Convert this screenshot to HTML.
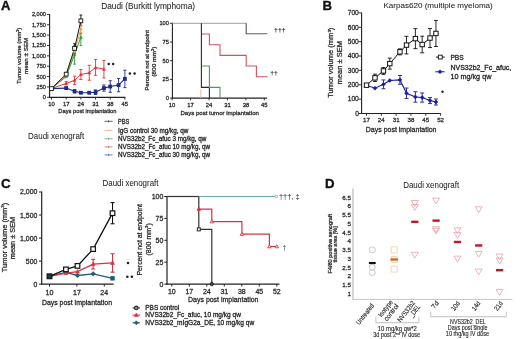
<!DOCTYPE html>
<html><head><meta charset="utf-8"><style>
html,body{margin:0;padding:0;background:#fff;overflow:hidden;width:520px;height:339px;}
svg{display:block;will-change:transform;}
</style></head><body>
<svg width="520" height="339" viewBox="0 0 520 339" font-family="'Liberation Sans', sans-serif">
<rect width="520" height="339" fill="#fff"/>
<g >
<text x="0.9" y="9.85" font-size="13" text-anchor="start" fill="#111" font-weight="bold" stroke="#111" stroke-width="0.35">A</text>
<text x="101.2" y="8.97" font-size="8.3" text-anchor="start" fill="#222" font-weight="normal" textLength="93.9" lengthAdjust="spacingAndGlyphs" stroke="#222" stroke-width="0.05">Daudi (Burkitt lymphoma)</text>
<line x1="49.6" y1="13.9" x2="49.6" y2="97.9" stroke="#222" stroke-width="1.1"/>
<line x1="49.1" y1="97.4" x2="125.4" y2="97.4" stroke="#222" stroke-width="1.1"/>
<line x1="46.9" y1="97.3" x2="49.6" y2="97.3" stroke="#222" stroke-width="0.9"/>
<text x="45.9" y="99.3" font-size="5.6" text-anchor="end" fill="#2a2a2a" font-weight="normal" stroke="#2a2a2a" stroke-width="0.27">0</text>
<line x1="46.9" y1="86.94" x2="49.6" y2="86.94" stroke="#222" stroke-width="0.9"/>
<text x="45.9" y="88.94" font-size="5.6" text-anchor="end" fill="#2a2a2a" font-weight="normal" stroke="#2a2a2a" stroke-width="0.27">250</text>
<line x1="46.9" y1="76.57" x2="49.6" y2="76.57" stroke="#222" stroke-width="0.9"/>
<text x="45.9" y="78.58" font-size="5.6" text-anchor="end" fill="#2a2a2a" font-weight="normal" stroke="#2a2a2a" stroke-width="0.27">500</text>
<line x1="46.9" y1="66.21" x2="49.6" y2="66.21" stroke="#222" stroke-width="0.9"/>
<text x="45.9" y="68.22" font-size="5.6" text-anchor="end" fill="#2a2a2a" font-weight="normal" stroke="#2a2a2a" stroke-width="0.27">750</text>
<line x1="46.9" y1="55.85" x2="49.6" y2="55.85" stroke="#222" stroke-width="0.9"/>
<text x="45.9" y="57.85" font-size="5.6" text-anchor="end" fill="#2a2a2a" font-weight="normal" stroke="#2a2a2a" stroke-width="0.27">1,000</text>
<line x1="46.9" y1="45.49" x2="49.6" y2="45.49" stroke="#222" stroke-width="0.9"/>
<text x="45.9" y="47.49" font-size="5.6" text-anchor="end" fill="#2a2a2a" font-weight="normal" stroke="#2a2a2a" stroke-width="0.27">1,250</text>
<line x1="46.9" y1="35.12" x2="49.6" y2="35.12" stroke="#222" stroke-width="0.9"/>
<text x="45.9" y="37.13" font-size="5.6" text-anchor="end" fill="#2a2a2a" font-weight="normal" stroke="#2a2a2a" stroke-width="0.27">1,500</text>
<line x1="46.9" y1="24.76" x2="49.6" y2="24.76" stroke="#222" stroke-width="0.9"/>
<text x="45.9" y="26.77" font-size="5.6" text-anchor="end" fill="#2a2a2a" font-weight="normal" stroke="#2a2a2a" stroke-width="0.27">1,750</text>
<line x1="46.9" y1="14.4" x2="49.6" y2="14.4" stroke="#222" stroke-width="0.9"/>
<text x="45.9" y="16.4" font-size="5.6" text-anchor="end" fill="#2a2a2a" font-weight="normal" stroke="#2a2a2a" stroke-width="0.27">2,000</text>
<line x1="51.5" y1="97.4" x2="51.5" y2="99.6" stroke="#222" stroke-width="0.9"/>
<text x="51.5" y="106.31" font-size="5.9" text-anchor="middle" fill="#2a2a2a" font-weight="normal" stroke="#2a2a2a" stroke-width="0.27">10</text>
<line x1="66.18" y1="97.4" x2="66.18" y2="99.6" stroke="#222" stroke-width="0.9"/>
<text x="66.18" y="106.31" font-size="5.9" text-anchor="middle" fill="#2a2a2a" font-weight="normal" stroke="#2a2a2a" stroke-width="0.27">17</text>
<line x1="80.86" y1="97.4" x2="80.86" y2="99.6" stroke="#222" stroke-width="0.9"/>
<text x="80.86" y="106.31" font-size="5.9" text-anchor="middle" fill="#2a2a2a" font-weight="normal" stroke="#2a2a2a" stroke-width="0.27">24</text>
<line x1="95.54" y1="97.4" x2="95.54" y2="99.6" stroke="#222" stroke-width="0.9"/>
<text x="95.54" y="106.31" font-size="5.9" text-anchor="middle" fill="#2a2a2a" font-weight="normal" stroke="#2a2a2a" stroke-width="0.27">31</text>
<line x1="110.22" y1="97.4" x2="110.22" y2="99.6" stroke="#222" stroke-width="0.9"/>
<text x="110.22" y="106.31" font-size="5.9" text-anchor="middle" fill="#2a2a2a" font-weight="normal" stroke="#2a2a2a" stroke-width="0.27">38</text>
<line x1="124.89" y1="97.4" x2="124.89" y2="99.6" stroke="#222" stroke-width="0.9"/>
<text x="124.89" y="106.31" font-size="5.9" text-anchor="middle" fill="#2a2a2a" font-weight="normal" stroke="#2a2a2a" stroke-width="0.27">45</text>
<text x="58.3" y="113.41" font-size="5.9" text-anchor="start" fill="#2a2a2a" font-weight="normal" textLength="58.2" lengthAdjust="spacingAndGlyphs" stroke="#2a2a2a" stroke-width="0.27">Days post implantation</text>
<text x="19" y="57.98" font-size="6.1" text-anchor="middle" fill="#2a2a2a" font-weight="normal" textLength="56.2" lengthAdjust="spacingAndGlyphs" stroke="#2a2a2a" stroke-width="0.27" transform="rotate(-90 19 55.8)">Tumor volume (mm<tspan font-size="3.6" dy="-2.3">3</tspan><tspan dy="2.3">)</tspan></text>
<text x="25.7" y="57.98" font-size="6.1" text-anchor="middle" fill="#2a2a2a" font-weight="normal" textLength="36.2" lengthAdjust="spacingAndGlyphs" stroke="#2a2a2a" stroke-width="0.27" transform="rotate(-90 25.7 55.8)">mean ± SEM</text>
<line x1="66.18" y1="84.99" x2="66.18" y2="81.67" stroke="#e0343a" stroke-width="0.9"/>
<line x1="64.58" y1="84.99" x2="67.78" y2="84.99" stroke="#e0343a" stroke-width="0.9"/>
<line x1="64.58" y1="81.67" x2="67.78" y2="81.67" stroke="#e0343a" stroke-width="0.9"/>
<line x1="74.57" y1="84.45" x2="74.57" y2="76.16" stroke="#e0343a" stroke-width="0.9"/>
<line x1="72.97" y1="84.45" x2="76.17" y2="84.45" stroke="#e0343a" stroke-width="0.9"/>
<line x1="72.97" y1="76.16" x2="76.17" y2="76.16" stroke="#e0343a" stroke-width="0.9"/>
<line x1="80.86" y1="79.48" x2="80.86" y2="69.53" stroke="#e0343a" stroke-width="0.9"/>
<line x1="79.26" y1="79.48" x2="82.46" y2="79.48" stroke="#e0343a" stroke-width="0.9"/>
<line x1="79.26" y1="69.53" x2="82.46" y2="69.53" stroke="#e0343a" stroke-width="0.9"/>
<line x1="89.25" y1="80.22" x2="89.25" y2="65.3" stroke="#e0343a" stroke-width="0.9"/>
<line x1="87.65" y1="80.22" x2="90.85" y2="80.22" stroke="#e0343a" stroke-width="0.9"/>
<line x1="87.65" y1="65.3" x2="90.85" y2="65.3" stroke="#e0343a" stroke-width="0.9"/>
<line x1="95.54" y1="75.33" x2="95.54" y2="59.58" stroke="#e0343a" stroke-width="0.9"/>
<line x1="93.94" y1="75.33" x2="97.14" y2="75.33" stroke="#e0343a" stroke-width="0.9"/>
<line x1="93.94" y1="59.58" x2="97.14" y2="59.58" stroke="#e0343a" stroke-width="0.9"/>
<line x1="103.92" y1="77.94" x2="103.92" y2="60.53" stroke="#e0343a" stroke-width="0.9"/>
<line x1="102.33" y1="77.94" x2="105.52" y2="77.94" stroke="#e0343a" stroke-width="0.9"/>
<line x1="102.33" y1="60.53" x2="105.52" y2="60.53" stroke="#e0343a" stroke-width="0.9"/>
<line x1="66.18" y1="88.93" x2="66.18" y2="87.27" stroke="#1c2a8c" stroke-width="0.9"/>
<line x1="64.58" y1="88.93" x2="67.78" y2="88.93" stroke="#1c2a8c" stroke-width="0.9"/>
<line x1="64.58" y1="87.27" x2="67.78" y2="87.27" stroke="#1c2a8c" stroke-width="0.9"/>
<line x1="74.57" y1="92.95" x2="74.57" y2="89.63" stroke="#1c2a8c" stroke-width="0.9"/>
<line x1="72.97" y1="92.95" x2="76.17" y2="92.95" stroke="#1c2a8c" stroke-width="0.9"/>
<line x1="72.97" y1="89.63" x2="76.17" y2="89.63" stroke="#1c2a8c" stroke-width="0.9"/>
<line x1="80.86" y1="93.57" x2="80.86" y2="91.91" stroke="#1c2a8c" stroke-width="0.9"/>
<line x1="79.26" y1="93.57" x2="82.46" y2="93.57" stroke="#1c2a8c" stroke-width="0.9"/>
<line x1="79.26" y1="91.91" x2="82.46" y2="91.91" stroke="#1c2a8c" stroke-width="0.9"/>
<line x1="89.25" y1="93.57" x2="89.25" y2="91.91" stroke="#1c2a8c" stroke-width="0.9"/>
<line x1="87.65" y1="93.57" x2="90.85" y2="93.57" stroke="#1c2a8c" stroke-width="0.9"/>
<line x1="87.65" y1="91.91" x2="90.85" y2="91.91" stroke="#1c2a8c" stroke-width="0.9"/>
<line x1="95.54" y1="94.48" x2="95.54" y2="89.92" stroke="#1c2a8c" stroke-width="0.9"/>
<line x1="93.94" y1="94.48" x2="97.14" y2="94.48" stroke="#1c2a8c" stroke-width="0.9"/>
<line x1="93.94" y1="89.92" x2="97.14" y2="89.92" stroke="#1c2a8c" stroke-width="0.9"/>
<line x1="103.92" y1="91.21" x2="103.92" y2="84.99" stroke="#1c2a8c" stroke-width="0.9"/>
<line x1="102.33" y1="91.21" x2="105.52" y2="91.21" stroke="#1c2a8c" stroke-width="0.9"/>
<line x1="102.33" y1="84.99" x2="105.52" y2="84.99" stroke="#1c2a8c" stroke-width="0.9"/>
<line x1="110.22" y1="92.33" x2="110.22" y2="80.72" stroke="#1c2a8c" stroke-width="0.9"/>
<line x1="108.62" y1="92.33" x2="111.82" y2="92.33" stroke="#1c2a8c" stroke-width="0.9"/>
<line x1="108.62" y1="80.72" x2="111.82" y2="80.72" stroke="#1c2a8c" stroke-width="0.9"/>
<line x1="118.6" y1="91.75" x2="118.6" y2="78.48" stroke="#1c2a8c" stroke-width="0.9"/>
<line x1="117" y1="91.75" x2="120.2" y2="91.75" stroke="#1c2a8c" stroke-width="0.9"/>
<line x1="117" y1="78.48" x2="120.2" y2="78.48" stroke="#1c2a8c" stroke-width="0.9"/>
<line x1="124.89" y1="87.64" x2="124.89" y2="70.23" stroke="#1c2a8c" stroke-width="0.9"/>
<line x1="123.3" y1="87.64" x2="126.49" y2="87.64" stroke="#1c2a8c" stroke-width="0.9"/>
<line x1="123.3" y1="70.23" x2="126.49" y2="70.23" stroke="#1c2a8c" stroke-width="0.9"/>
<line x1="80.86" y1="25.8" x2="80.86" y2="15.02" stroke="#111" stroke-width="0.9"/>
<line x1="79.46" y1="25.8" x2="82.26" y2="25.8" stroke="#111" stroke-width="0.9"/>
<line x1="79.46" y1="15.02" x2="82.26" y2="15.02" stroke="#111" stroke-width="0.9"/>
<line x1="74.57" y1="53.24" x2="74.57" y2="43.71" stroke="#111" stroke-width="0.9"/>
<line x1="73.17" y1="53.24" x2="75.97" y2="53.24" stroke="#111" stroke-width="0.9"/>
<line x1="73.17" y1="43.71" x2="75.97" y2="43.71" stroke="#111" stroke-width="0.9"/>
<line x1="80.86" y1="45.57" x2="80.86" y2="33.55" stroke="#2e9a3a" stroke-width="0.9"/>
<line x1="79.46" y1="45.57" x2="82.26" y2="45.57" stroke="#2e9a3a" stroke-width="0.9"/>
<line x1="79.46" y1="33.55" x2="82.26" y2="33.55" stroke="#2e9a3a" stroke-width="0.9"/>
<line x1="74.57" y1="64.14" x2="74.57" y2="45.49" stroke="#2e9a3a" stroke-width="0.9"/>
<line x1="73.17" y1="64.14" x2="75.97" y2="64.14" stroke="#2e9a3a" stroke-width="0.9"/>
<line x1="73.17" y1="45.49" x2="75.97" y2="45.49" stroke="#2e9a3a" stroke-width="0.9"/>
<line x1="80.86" y1="32.51" x2="80.86" y2="25.05" stroke="#f0a050" stroke-width="0.9"/>
<line x1="79.46" y1="32.51" x2="82.26" y2="32.51" stroke="#f0a050" stroke-width="0.9"/>
<line x1="79.46" y1="25.05" x2="82.26" y2="25.05" stroke="#f0a050" stroke-width="0.9"/>
<polyline points="51.5,88.6 66.18,75.41 74.57,51.7 80.86,29.2" fill="none" stroke="#f0a050" stroke-width="1" stroke-linejoin="miter"/>
<polyline points="51.5,88.6 66.18,76.57 74.57,54.61 80.86,37.28" fill="none" stroke="#2e9a3a" stroke-width="1" stroke-linejoin="miter"/>
<polyline points="51.5,88.6 66.18,83.33 74.57,80.31 80.86,74.5 89.25,72.76 95.54,67.46 103.92,69.24" fill="none" stroke="#e0343a" stroke-width="1" stroke-linejoin="miter"/>
<polyline points="51.5,88.6 66.18,88.1 74.57,91.29 80.86,92.74 89.25,92.74 95.54,92.2 103.92,88.1 110.22,86.52 118.6,85.11 124.89,78.94" fill="none" stroke="#1c2a8c" stroke-width="1.1" stroke-linejoin="miter"/>
<polyline points="51.5,88.6 66.18,74.13 74.57,48.39 80.86,20.82" fill="none" stroke="#111" stroke-width="1" stroke-linejoin="miter"/>
<polygon points="66.18,81.73 64.68,84.53 67.68,84.53" fill="#e0343a" stroke="#e0343a" stroke-width="0.5"/>
<polygon points="74.57,78.71 73.07,81.51 76.07,81.51" fill="#e0343a" stroke="#e0343a" stroke-width="0.5"/>
<polygon points="80.86,72.9 79.36,75.7 82.36,75.7" fill="#e0343a" stroke="#e0343a" stroke-width="0.5"/>
<polygon points="89.25,71.16 87.75,73.96 90.75,73.96" fill="#e0343a" stroke="#e0343a" stroke-width="0.5"/>
<polygon points="95.54,65.86 94.04,68.66 97.04,68.66" fill="#e0343a" stroke="#e0343a" stroke-width="0.5"/>
<polygon points="103.92,67.64 102.42,70.44 105.42,70.44" fill="#e0343a" stroke="#e0343a" stroke-width="0.5"/>
<polygon points="66.18,74.97 64.68,77.77 67.68,77.77" fill="#2e9a3a" stroke="#2e9a3a" stroke-width="0.5"/>
<polygon points="74.57,53.01 73.07,55.81 76.07,55.81" fill="#2e9a3a" stroke="#2e9a3a" stroke-width="0.5"/>
<polygon points="80.86,35.68 79.36,38.48 82.36,38.48" fill="#2e9a3a" stroke="#2e9a3a" stroke-width="0.5"/>
<rect x="64.28" y="86.2" width="3.8" height="3.8" fill="#1c2a8c" stroke="none" stroke-width="1"/>
<rect x="72.67" y="89.39" width="3.8" height="3.8" fill="#1c2a8c" stroke="none" stroke-width="1"/>
<rect x="78.96" y="90.84" width="3.8" height="3.8" fill="#1c2a8c" stroke="none" stroke-width="1"/>
<rect x="87.35" y="90.84" width="3.8" height="3.8" fill="#1c2a8c" stroke="none" stroke-width="1"/>
<rect x="93.64" y="90.3" width="3.8" height="3.8" fill="#1c2a8c" stroke="none" stroke-width="1"/>
<rect x="102.02" y="86.2" width="3.8" height="3.8" fill="#1c2a8c" stroke="none" stroke-width="1"/>
<rect x="108.32" y="84.62" width="3.8" height="3.8" fill="#1c2a8c" stroke="none" stroke-width="1"/>
<rect x="116.7" y="83.21" width="3.8" height="3.8" fill="#1c2a8c" stroke="none" stroke-width="1"/>
<rect x="122.99" y="77.04" width="3.8" height="3.8" fill="#1c2a8c" stroke="none" stroke-width="1"/>
<circle cx="66.18" cy="75.41" r="1.4" fill="#f0a050" stroke="none" stroke-width="1"/>
<circle cx="74.57" cy="51.7" r="1.4" fill="#f0a050" stroke="none" stroke-width="1"/>
<circle cx="80.86" cy="29.2" r="1.4" fill="#f0a050" stroke="none" stroke-width="1"/>
<rect x="49.6" y="86.7" width="3.8" height="3.8" fill="#fff" stroke="#111" stroke-width="0.9"/>
<rect x="64.28" y="72.23" width="3.8" height="3.8" fill="#fff" stroke="#111" stroke-width="0.9"/>
<rect x="72.67" y="46.49" width="3.8" height="3.8" fill="#fff" stroke="#111" stroke-width="0.9"/>
<rect x="78.96" y="18.92" width="3.8" height="3.8" fill="#fff" stroke="#111" stroke-width="0.9"/>
<circle cx="108.7" cy="64" r="1.25" fill="#222" stroke="none" stroke-width="1"/>
<circle cx="113.1" cy="64" r="1.25" fill="#222" stroke="none" stroke-width="1"/>
<circle cx="129.9" cy="73.6" r="1.25" fill="#222" stroke="none" stroke-width="1"/>
<circle cx="134.6" cy="73.6" r="1.25" fill="#222" stroke="none" stroke-width="1"/>
<line x1="172.4" y1="22.8" x2="172.4" y2="98.6" stroke="#222" stroke-width="1.1"/>
<line x1="171.9" y1="98.1" x2="267" y2="98.1" stroke="#222" stroke-width="1.1"/>
<line x1="169.9" y1="98.1" x2="172.4" y2="98.1" stroke="#222" stroke-width="0.9"/>
<text x="168.9" y="100.14" font-size="5.7" text-anchor="end" fill="#2a2a2a" font-weight="normal" stroke="#2a2a2a" stroke-width="0.27">0</text>
<line x1="169.9" y1="79.4" x2="172.4" y2="79.4" stroke="#222" stroke-width="0.9"/>
<text x="168.9" y="81.44" font-size="5.7" text-anchor="end" fill="#2a2a2a" font-weight="normal" stroke="#2a2a2a" stroke-width="0.27">25</text>
<line x1="169.9" y1="60.7" x2="172.4" y2="60.7" stroke="#222" stroke-width="0.9"/>
<text x="168.9" y="62.74" font-size="5.7" text-anchor="end" fill="#2a2a2a" font-weight="normal" stroke="#2a2a2a" stroke-width="0.27">50</text>
<line x1="169.9" y1="42" x2="172.4" y2="42" stroke="#222" stroke-width="0.9"/>
<text x="168.9" y="44.04" font-size="5.7" text-anchor="end" fill="#2a2a2a" font-weight="normal" stroke="#2a2a2a" stroke-width="0.27">75</text>
<line x1="169.9" y1="23.3" x2="172.4" y2="23.3" stroke="#222" stroke-width="0.9"/>
<text x="168.9" y="25.34" font-size="5.7" text-anchor="end" fill="#2a2a2a" font-weight="normal" stroke="#2a2a2a" stroke-width="0.27">100</text>
<line x1="172.1" y1="98.1" x2="172.1" y2="100.3" stroke="#222" stroke-width="0.9"/>
<text x="172.1" y="106.81" font-size="5.9" text-anchor="middle" fill="#2a2a2a" font-weight="normal" stroke="#2a2a2a" stroke-width="0.27">10</text>
<line x1="190.55" y1="98.1" x2="190.55" y2="100.3" stroke="#222" stroke-width="0.9"/>
<text x="190.55" y="106.81" font-size="5.9" text-anchor="middle" fill="#2a2a2a" font-weight="normal" stroke="#2a2a2a" stroke-width="0.27">17</text>
<line x1="209" y1="98.1" x2="209" y2="100.3" stroke="#222" stroke-width="0.9"/>
<text x="209" y="106.81" font-size="5.9" text-anchor="middle" fill="#2a2a2a" font-weight="normal" stroke="#2a2a2a" stroke-width="0.27">24</text>
<line x1="227.46" y1="98.1" x2="227.46" y2="100.3" stroke="#222" stroke-width="0.9"/>
<text x="227.46" y="106.81" font-size="5.9" text-anchor="middle" fill="#2a2a2a" font-weight="normal" stroke="#2a2a2a" stroke-width="0.27">31</text>
<line x1="245.91" y1="98.1" x2="245.91" y2="100.3" stroke="#222" stroke-width="0.9"/>
<text x="245.91" y="106.81" font-size="5.9" text-anchor="middle" fill="#2a2a2a" font-weight="normal" stroke="#2a2a2a" stroke-width="0.27">38</text>
<line x1="264.36" y1="98.1" x2="264.36" y2="100.3" stroke="#222" stroke-width="0.9"/>
<text x="264.36" y="106.81" font-size="5.9" text-anchor="middle" fill="#2a2a2a" font-weight="normal" stroke="#2a2a2a" stroke-width="0.27">45</text>
<text x="180.4" y="115.18" font-size="6.1" text-anchor="start" fill="#2a2a2a" font-weight="normal" textLength="78.5" lengthAdjust="spacingAndGlyphs" stroke="#2a2a2a" stroke-width="0.27">Days post tumor implantation</text>
<text x="147.4" y="62.31" font-size="5.9" text-anchor="middle" fill="#2a2a2a" font-weight="normal" textLength="60.4" lengthAdjust="spacingAndGlyphs" stroke="#2a2a2a" stroke-width="0.27" transform="rotate(-90 147.4 60.2)">Percent not at endpoint</text>
<text x="154.3" y="63.81" font-size="5.9" text-anchor="middle" fill="#2a2a2a" font-weight="normal" textLength="30.2" lengthAdjust="spacingAndGlyphs" stroke="#2a2a2a" stroke-width="0.27" transform="rotate(-90 154.3 61.7)">(800 mm<tspan font-size="3.6" dy="-2.3">3</tspan><tspan dy="2.3">)</tspan></text>
<line x1="172.4" y1="23.3" x2="246.2" y2="23.3" stroke="#9a9ab6" stroke-width="1"/>
<polyline points="246.2,23.3 246.2,33.77 267.4,33.77" fill="none" stroke="#5c5c8e" stroke-width="1.2" stroke-linejoin="miter"/>
<polyline points="201.4,23.3 201.4,87.4 209.4,87.4 209.4,98.1" fill="none" stroke="#2a2a2a" stroke-width="1.1" stroke-linejoin="miter"/>
<polyline points="202.2,66.01 209.4,66.01 209.4,87.4 220,87.4 220,98.1" fill="none" stroke="#4e9c55" stroke-width="1.1" stroke-linejoin="miter"/>
<line x1="200.8" y1="89.12" x2="200.8" y2="98.1" stroke="#f5b890" stroke-width="1"/>
<polyline points="202,34 209.4,34 209.4,44.69 220,44.69 220,55.39 246.2,55.39 246.2,66.01 256.4,66.01 256.4,76.71 267.6,76.71" fill="none" stroke="#d4505e" stroke-width="1.1" stroke-linejoin="miter"/>
<text x="274.1" y="32" font-size="5.6" text-anchor="start" fill="#222" font-weight="normal" textLength="11.5" lengthAdjust="spacingAndGlyphs" stroke="#222" stroke-width="0.1">†††</text>
<text x="270.2" y="75" font-size="5.6" text-anchor="start" fill="#222" font-weight="normal" textLength="7.5" lengthAdjust="spacingAndGlyphs" stroke="#222" stroke-width="0.1">††</text>
<text x="28.1" y="139.07" font-size="8.3" text-anchor="start" fill="#222" font-weight="normal" textLength="56.2" lengthAdjust="spacingAndGlyphs" stroke="#222" stroke-width="0.03">Daudi xenograft</text>
<line x1="104.5" y1="121.3" x2="112.6" y2="121.3" stroke="#333" stroke-width="0.75"/>
<line x1="108.5" y1="120.3" x2="108.5" y2="122.3" stroke="#333" stroke-width="0.7"/>
<text x="118" y="123.56" font-size="6.3" text-anchor="start" fill="#222" font-weight="normal" textLength="11.3" lengthAdjust="spacingAndGlyphs" stroke="#222" stroke-width="0.27">PBS</text>
<line x1="104.5" y1="130.4" x2="112.6" y2="130.4" stroke="#f0a878" stroke-width="0.75"/>
<line x1="108.5" y1="129.4" x2="108.5" y2="131.4" stroke="#f0a878" stroke-width="0.7"/>
<text x="118" y="132.66" font-size="6.3" text-anchor="start" fill="#222" font-weight="normal" textLength="70.4" lengthAdjust="spacingAndGlyphs" stroke="#222" stroke-width="0.27">IgG control 30 mg/kg, qw</text>
<line x1="104.5" y1="138.8" x2="112.6" y2="138.8" stroke="#5a9a5a" stroke-width="0.75"/>
<line x1="108.5" y1="137.8" x2="108.5" y2="139.8" stroke="#5a9a5a" stroke-width="0.7"/>
<text x="118" y="141.06" font-size="6.3" text-anchor="start" fill="#222" font-weight="normal" textLength="88.3" lengthAdjust="spacingAndGlyphs" stroke="#222" stroke-width="0.27">NVS32b2_Fc_afuc 3 mg/kg, qw</text>
<line x1="104.5" y1="146.9" x2="112.6" y2="146.9" stroke="#d85060" stroke-width="0.75"/>
<line x1="108.5" y1="145.9" x2="108.5" y2="147.9" stroke="#d85060" stroke-width="0.7"/>
<text x="118" y="149.16" font-size="6.3" text-anchor="start" fill="#222" font-weight="normal" textLength="92" lengthAdjust="spacingAndGlyphs" stroke="#222" stroke-width="0.27">NVS32b2_Fc_afuc 10 mg/kg, qw</text>
<line x1="104.5" y1="154.9" x2="112.6" y2="154.9" stroke="#3a5aa8" stroke-width="0.75"/>
<line x1="108.5" y1="153.9" x2="108.5" y2="155.9" stroke="#3a5aa8" stroke-width="0.7"/>
<text x="118" y="157.16" font-size="6.3" text-anchor="start" fill="#222" font-weight="normal" textLength="92" lengthAdjust="spacingAndGlyphs" stroke="#222" stroke-width="0.27">NVS32b2_Fc_afuc 30 mg/kg, qw</text>
<text x="322.4" y="9.63" font-size="13.2" text-anchor="start" fill="#111" font-weight="bold" stroke="#111" stroke-width="0.35">B</text>
<text x="383.4" y="8.26" font-size="8" text-anchor="start" fill="#222" font-weight="normal" textLength="109.4" lengthAdjust="spacingAndGlyphs" stroke="#222" stroke-width="0.05">Karpas620 (multiple myeloma)</text>
<line x1="361.6" y1="12.41" x2="361.6" y2="114" stroke="#222" stroke-width="1.1"/>
<line x1="361.1" y1="113.5" x2="440.8" y2="113.5" stroke="#222" stroke-width="1.1"/>
<line x1="358.4" y1="113.5" x2="361.6" y2="113.5" stroke="#222" stroke-width="0.9"/>
<text x="358.8" y="115.86" font-size="6.6" text-anchor="end" fill="#2a2a2a" font-weight="normal" stroke="#2a2a2a" stroke-width="0.27">0</text>
<line x1="358.4" y1="99.13" x2="361.6" y2="99.13" stroke="#222" stroke-width="0.9"/>
<text x="358.8" y="101.49" font-size="6.6" text-anchor="end" fill="#2a2a2a" font-weight="normal" stroke="#2a2a2a" stroke-width="0.27">100</text>
<line x1="358.4" y1="84.76" x2="361.6" y2="84.76" stroke="#222" stroke-width="0.9"/>
<text x="358.8" y="87.12" font-size="6.6" text-anchor="end" fill="#2a2a2a" font-weight="normal" stroke="#2a2a2a" stroke-width="0.27">200</text>
<line x1="358.4" y1="70.39" x2="361.6" y2="70.39" stroke="#222" stroke-width="0.9"/>
<text x="358.8" y="72.75" font-size="6.6" text-anchor="end" fill="#2a2a2a" font-weight="normal" stroke="#2a2a2a" stroke-width="0.27">300</text>
<line x1="358.4" y1="56.02" x2="361.6" y2="56.02" stroke="#222" stroke-width="0.9"/>
<text x="358.8" y="58.38" font-size="6.6" text-anchor="end" fill="#2a2a2a" font-weight="normal" stroke="#2a2a2a" stroke-width="0.27">400</text>
<line x1="358.4" y1="41.65" x2="361.6" y2="41.65" stroke="#222" stroke-width="0.9"/>
<text x="358.8" y="44.01" font-size="6.6" text-anchor="end" fill="#2a2a2a" font-weight="normal" stroke="#2a2a2a" stroke-width="0.27">500</text>
<line x1="358.4" y1="27.28" x2="361.6" y2="27.28" stroke="#222" stroke-width="0.9"/>
<text x="358.8" y="29.64" font-size="6.6" text-anchor="end" fill="#2a2a2a" font-weight="normal" stroke="#2a2a2a" stroke-width="0.27">600</text>
<line x1="358.4" y1="12.91" x2="361.6" y2="12.91" stroke="#222" stroke-width="0.9"/>
<text x="358.8" y="15.27" font-size="6.6" text-anchor="end" fill="#2a2a2a" font-weight="normal" stroke="#2a2a2a" stroke-width="0.27">700</text>
<line x1="366.5" y1="113.5" x2="366.5" y2="115.8" stroke="#222" stroke-width="0.9"/>
<text x="366.5" y="122.32" font-size="6.2" text-anchor="middle" fill="#2a2a2a" font-weight="normal" stroke="#2a2a2a" stroke-width="0.27">17</text>
<line x1="381.32" y1="113.5" x2="381.32" y2="115.8" stroke="#222" stroke-width="0.9"/>
<text x="381.32" y="122.32" font-size="6.2" text-anchor="middle" fill="#2a2a2a" font-weight="normal" stroke="#2a2a2a" stroke-width="0.27">24</text>
<line x1="396.14" y1="113.5" x2="396.14" y2="115.8" stroke="#222" stroke-width="0.9"/>
<text x="396.14" y="122.32" font-size="6.2" text-anchor="middle" fill="#2a2a2a" font-weight="normal" stroke="#2a2a2a" stroke-width="0.27">31</text>
<line x1="410.96" y1="113.5" x2="410.96" y2="115.8" stroke="#222" stroke-width="0.9"/>
<text x="410.96" y="122.32" font-size="6.2" text-anchor="middle" fill="#2a2a2a" font-weight="normal" stroke="#2a2a2a" stroke-width="0.27">38</text>
<line x1="425.78" y1="113.5" x2="425.78" y2="115.8" stroke="#222" stroke-width="0.9"/>
<text x="425.78" y="122.32" font-size="6.2" text-anchor="middle" fill="#2a2a2a" font-weight="normal" stroke="#2a2a2a" stroke-width="0.27">45</text>
<line x1="440.6" y1="113.5" x2="440.6" y2="115.8" stroke="#222" stroke-width="0.9"/>
<text x="440.6" y="122.32" font-size="6.2" text-anchor="middle" fill="#2a2a2a" font-weight="normal" stroke="#2a2a2a" stroke-width="0.27">52</text>
<text x="365.8" y="132.37" font-size="6.9" text-anchor="start" fill="#2a2a2a" font-weight="normal" textLength="70.7" lengthAdjust="spacingAndGlyphs" stroke="#2a2a2a" stroke-width="0.27">Days post implantation</text>
<text x="330.8" y="65.39" font-size="7.5" text-anchor="middle" fill="#2a2a2a" font-weight="normal" textLength="70.2" lengthAdjust="spacingAndGlyphs" stroke="#2a2a2a" stroke-width="0.27" transform="rotate(-90 330.8 62.7)">Tumor volume (mm<tspan font-size="4.4" dy="-2.8">3</tspan><tspan dy="2.8">)</tspan></text>
<text x="339" y="65.39" font-size="7.5" text-anchor="middle" fill="#2a2a2a" font-weight="normal" textLength="43.6" lengthAdjust="spacingAndGlyphs" stroke="#2a2a2a" stroke-width="0.27" transform="rotate(-90 339 62.7)">mean ± SEM</text>
<line x1="383.44" y1="88.73" x2="383.44" y2="79.93" stroke="#1a1aa0" stroke-width="0.9"/>
<line x1="381.44" y1="88.73" x2="385.44" y2="88.73" stroke="#1a1aa0" stroke-width="0.9"/>
<line x1="381.44" y1="79.93" x2="385.44" y2="79.93" stroke="#1a1aa0" stroke-width="0.9"/>
<line x1="399.95" y1="84.27" x2="399.95" y2="75.47" stroke="#1a1aa0" stroke-width="0.9"/>
<line x1="397.95" y1="84.27" x2="401.95" y2="84.27" stroke="#1a1aa0" stroke-width="0.9"/>
<line x1="397.95" y1="75.47" x2="401.95" y2="75.47" stroke="#1a1aa0" stroke-width="0.9"/>
<line x1="406.51" y1="98.44" x2="406.51" y2="88.04" stroke="#1a1aa0" stroke-width="0.9"/>
<line x1="404.51" y1="98.44" x2="408.51" y2="98.44" stroke="#1a1aa0" stroke-width="0.9"/>
<line x1="404.51" y1="88.04" x2="408.51" y2="88.04" stroke="#1a1aa0" stroke-width="0.9"/>
<line x1="415.4" y1="102.17" x2="415.4" y2="91.77" stroke="#1a1aa0" stroke-width="0.9"/>
<line x1="413.4" y1="102.17" x2="417.4" y2="102.17" stroke="#1a1aa0" stroke-width="0.9"/>
<line x1="413.4" y1="91.77" x2="417.4" y2="91.77" stroke="#1a1aa0" stroke-width="0.9"/>
<line x1="422.18" y1="102.15" x2="422.18" y2="92.95" stroke="#1a1aa0" stroke-width="0.9"/>
<line x1="420.18" y1="102.15" x2="424.18" y2="102.15" stroke="#1a1aa0" stroke-width="0.9"/>
<line x1="420.18" y1="92.95" x2="424.18" y2="92.95" stroke="#1a1aa0" stroke-width="0.9"/>
<line x1="430.01" y1="103.57" x2="430.01" y2="97.57" stroke="#1a1aa0" stroke-width="0.9"/>
<line x1="428.01" y1="103.57" x2="432.01" y2="103.57" stroke="#1a1aa0" stroke-width="0.9"/>
<line x1="428.01" y1="97.57" x2="432.01" y2="97.57" stroke="#1a1aa0" stroke-width="0.9"/>
<line x1="435.94" y1="105" x2="435.94" y2="99" stroke="#1a1aa0" stroke-width="0.9"/>
<line x1="433.94" y1="105" x2="437.94" y2="105" stroke="#1a1aa0" stroke-width="0.9"/>
<line x1="433.94" y1="99" x2="437.94" y2="99" stroke="#1a1aa0" stroke-width="0.9"/>
<line x1="374.97" y1="81.56" x2="374.97" y2="74.16" stroke="#111" stroke-width="0.9"/>
<line x1="372.97" y1="81.56" x2="376.97" y2="81.56" stroke="#111" stroke-width="0.9"/>
<line x1="372.97" y1="74.16" x2="376.97" y2="74.16" stroke="#111" stroke-width="0.9"/>
<line x1="383.44" y1="74.36" x2="383.44" y2="67.56" stroke="#111" stroke-width="0.9"/>
<line x1="381.44" y1="74.36" x2="385.44" y2="74.36" stroke="#111" stroke-width="0.9"/>
<line x1="381.44" y1="67.56" x2="385.44" y2="67.56" stroke="#111" stroke-width="0.9"/>
<line x1="389.79" y1="69.14" x2="389.79" y2="58.14" stroke="#111" stroke-width="0.9"/>
<line x1="387.79" y1="69.14" x2="391.79" y2="69.14" stroke="#111" stroke-width="0.9"/>
<line x1="387.79" y1="58.14" x2="391.79" y2="58.14" stroke="#111" stroke-width="0.9"/>
<line x1="399.95" y1="54.85" x2="399.95" y2="48.85" stroke="#111" stroke-width="0.9"/>
<line x1="397.95" y1="54.85" x2="401.95" y2="54.85" stroke="#111" stroke-width="0.9"/>
<line x1="397.95" y1="48.85" x2="401.95" y2="48.85" stroke="#111" stroke-width="0.9"/>
<line x1="406.51" y1="53.9" x2="406.51" y2="36.3" stroke="#111" stroke-width="0.9"/>
<line x1="404.51" y1="53.9" x2="408.51" y2="53.9" stroke="#111" stroke-width="0.9"/>
<line x1="404.51" y1="36.3" x2="408.51" y2="36.3" stroke="#111" stroke-width="0.9"/>
<line x1="415.4" y1="48.63" x2="415.4" y2="28.63" stroke="#111" stroke-width="0.9"/>
<line x1="413.4" y1="48.63" x2="417.4" y2="48.63" stroke="#111" stroke-width="0.9"/>
<line x1="413.4" y1="28.63" x2="417.4" y2="28.63" stroke="#111" stroke-width="0.9"/>
<line x1="422.18" y1="52.82" x2="422.18" y2="36.22" stroke="#111" stroke-width="0.9"/>
<line x1="420.18" y1="52.82" x2="424.18" y2="52.82" stroke="#111" stroke-width="0.9"/>
<line x1="420.18" y1="36.22" x2="424.18" y2="36.22" stroke="#111" stroke-width="0.9"/>
<line x1="430.01" y1="47.56" x2="430.01" y2="28.56" stroke="#111" stroke-width="0.9"/>
<line x1="428.01" y1="47.56" x2="432.01" y2="47.56" stroke="#111" stroke-width="0.9"/>
<line x1="428.01" y1="28.56" x2="432.01" y2="28.56" stroke="#111" stroke-width="0.9"/>
<line x1="435.94" y1="46.46" x2="435.94" y2="20.46" stroke="#111" stroke-width="0.9"/>
<line x1="433.94" y1="46.46" x2="437.94" y2="46.46" stroke="#111" stroke-width="0.9"/>
<line x1="433.94" y1="20.46" x2="437.94" y2="20.46" stroke="#111" stroke-width="0.9"/>
<polyline points="366.5,85.19 374.97,88.21 383.44,84.33 389.79,80.45 399.95,79.87 406.51,93.24 415.4,96.97 422.18,97.55 430.01,100.57 435.94,102" fill="none" stroke="#1a1aa0" stroke-width="1.1" stroke-linejoin="miter"/>
<polyline points="366.5,85.19 374.97,77.86 383.44,70.96 389.79,63.64 399.95,51.85 406.51,45.1 415.4,38.63 422.18,44.52 430.01,38.06 435.94,33.46" fill="none" stroke="#111" stroke-width="1" stroke-linejoin="miter"/>
<polygon points="374.97,86.21 376.97,88.21 374.97,90.21 372.97,88.21" fill="#1a1aa0" stroke="#1a1aa0" stroke-width="0.5"/>
<polygon points="383.44,82.33 385.44,84.33 383.44,86.33 381.44,84.33" fill="#1a1aa0" stroke="#1a1aa0" stroke-width="0.5"/>
<polygon points="389.79,78.45 391.79,80.45 389.79,82.45 387.79,80.45" fill="#1a1aa0" stroke="#1a1aa0" stroke-width="0.5"/>
<polygon points="399.95,77.87 401.95,79.87 399.95,81.87 397.95,79.87" fill="#1a1aa0" stroke="#1a1aa0" stroke-width="0.5"/>
<polygon points="406.51,91.24 408.51,93.24 406.51,95.24 404.51,93.24" fill="#1a1aa0" stroke="#1a1aa0" stroke-width="0.5"/>
<polygon points="415.4,94.97 417.4,96.97 415.4,98.97 413.4,96.97" fill="#1a1aa0" stroke="#1a1aa0" stroke-width="0.5"/>
<polygon points="422.18,95.55 424.18,97.55 422.18,99.55 420.18,97.55" fill="#1a1aa0" stroke="#1a1aa0" stroke-width="0.5"/>
<polygon points="430.01,98.57 432.01,100.57 430.01,102.57 428.01,100.57" fill="#1a1aa0" stroke="#1a1aa0" stroke-width="0.5"/>
<polygon points="435.94,100 437.94,102 435.94,104 433.94,102" fill="#1a1aa0" stroke="#1a1aa0" stroke-width="0.5"/>
<rect x="364.3" y="82.99" width="4.4" height="4.4" fill="#fff" stroke="#111" stroke-width="1"/>
<rect x="372.77" y="75.66" width="4.4" height="4.4" fill="#fff" stroke="#111" stroke-width="1"/>
<rect x="381.24" y="68.76" width="4.4" height="4.4" fill="#fff" stroke="#111" stroke-width="1"/>
<rect x="387.59" y="61.44" width="4.4" height="4.4" fill="#fff" stroke="#111" stroke-width="1"/>
<rect x="397.75" y="49.65" width="4.4" height="4.4" fill="#fff" stroke="#111" stroke-width="1"/>
<rect x="404.31" y="42.9" width="4.4" height="4.4" fill="#fff" stroke="#111" stroke-width="1"/>
<rect x="413.2" y="36.43" width="4.4" height="4.4" fill="#fff" stroke="#111" stroke-width="1"/>
<rect x="419.98" y="42.32" width="4.4" height="4.4" fill="#fff" stroke="#111" stroke-width="1"/>
<rect x="427.81" y="35.86" width="4.4" height="4.4" fill="#fff" stroke="#111" stroke-width="1"/>
<rect x="433.74" y="31.26" width="4.4" height="4.4" fill="#fff" stroke="#111" stroke-width="1"/>
<line x1="436" y1="57.1" x2="444.7" y2="57.1" stroke="#111" stroke-width="1"/>
<rect x="438.4" y="55.2" width="3.8" height="3.8" fill="#fff" stroke="#111" stroke-width="0.9"/>
<text x="450.4" y="59.64" font-size="7.1" text-anchor="start" fill="#222" font-weight="normal" textLength="13.3" lengthAdjust="spacingAndGlyphs" stroke="#222" stroke-width="0.27">PBS</text>
<line x1="435.2" y1="71.8" x2="444.7" y2="71.8" stroke="#1a1aa0" stroke-width="1"/>
<polygon points="440,69.8 442,71.8 440,73.8 438,71.8" fill="#1a1aa0" stroke="#1a1aa0" stroke-width="0.5"/>
<text x="450.4" y="69.64" font-size="7.1" text-anchor="start" fill="#222" font-weight="normal" textLength="60.9" lengthAdjust="spacingAndGlyphs" stroke="#222" stroke-width="0.27">NVS32b2_Fc_afuc,</text>
<text x="450.4" y="79.04" font-size="7.1" text-anchor="start" fill="#222" font-weight="normal" textLength="41" lengthAdjust="spacingAndGlyphs" stroke="#222" stroke-width="0.27">10 mg/kg qw</text>
<circle cx="442.5" cy="91.8" r="1.2" fill="#222" stroke="none" stroke-width="1"/>
<text x="0.9" y="187.8" font-size="13.4" text-anchor="start" fill="#111" font-weight="bold" stroke="#111" stroke-width="0.35">C</text>
<text x="102.5" y="186.28" font-size="8.6" text-anchor="start" fill="#222" font-weight="normal" textLength="56" lengthAdjust="spacingAndGlyphs" stroke="#222" stroke-width="0.03">Daudi xenograft</text>
<line x1="41.7" y1="191.4" x2="41.7" y2="284.7" stroke="#222" stroke-width="1.2"/>
<line x1="41.1" y1="284.1" x2="113.6" y2="284.1" stroke="#222" stroke-width="1.2"/>
<line x1="39" y1="284.1" x2="41.7" y2="284.1" stroke="#222" stroke-width="1"/>
<text x="37.3" y="286.57" font-size="6.9" text-anchor="end" fill="#2a2a2a" font-weight="normal" stroke="#2a2a2a" stroke-width="0.27">0</text>
<line x1="39" y1="261.08" x2="41.7" y2="261.08" stroke="#222" stroke-width="1"/>
<text x="37.3" y="263.55" font-size="6.9" text-anchor="end" fill="#2a2a2a" font-weight="normal" stroke="#2a2a2a" stroke-width="0.27">500</text>
<line x1="39" y1="238.05" x2="41.7" y2="238.05" stroke="#222" stroke-width="1"/>
<text x="37.3" y="240.52" font-size="6.9" text-anchor="end" fill="#2a2a2a" font-weight="normal" stroke="#2a2a2a" stroke-width="0.27">1,000</text>
<line x1="39" y1="215.03" x2="41.7" y2="215.03" stroke="#222" stroke-width="1"/>
<text x="37.3" y="217.5" font-size="6.9" text-anchor="end" fill="#2a2a2a" font-weight="normal" stroke="#2a2a2a" stroke-width="0.27">1,500</text>
<line x1="39" y1="192" x2="41.7" y2="192" stroke="#222" stroke-width="1"/>
<text x="37.3" y="194.47" font-size="6.9" text-anchor="end" fill="#2a2a2a" font-weight="normal" stroke="#2a2a2a" stroke-width="0.27">2,000</text>
<line x1="49.5" y1="284.1" x2="49.5" y2="286.5" stroke="#222" stroke-width="1"/>
<text x="49.5" y="294.74" font-size="7.1" text-anchor="middle" fill="#2a2a2a" font-weight="normal" stroke="#2a2a2a" stroke-width="0.27">10</text>
<line x1="76.9" y1="284.1" x2="76.9" y2="286.5" stroke="#222" stroke-width="1"/>
<text x="76.9" y="294.74" font-size="7.1" text-anchor="middle" fill="#2a2a2a" font-weight="normal" stroke="#2a2a2a" stroke-width="0.27">17</text>
<line x1="104.3" y1="284.1" x2="104.3" y2="286.5" stroke="#222" stroke-width="1"/>
<text x="104.3" y="294.74" font-size="7.1" text-anchor="middle" fill="#2a2a2a" font-weight="normal" stroke="#2a2a2a" stroke-width="0.27">24</text>
<text x="41.9" y="305.47" font-size="6.9" text-anchor="start" fill="#2a2a2a" font-weight="normal" textLength="70.1" lengthAdjust="spacingAndGlyphs" stroke="#2a2a2a" stroke-width="0.27">Days post implantation</text>
<text x="4.6" y="240.1" font-size="7.4" text-anchor="middle" fill="#2a2a2a" font-weight="normal" textLength="69.5" lengthAdjust="spacingAndGlyphs" stroke="#2a2a2a" stroke-width="0.27" transform="rotate(-90 4.6 237.45)">Tumor volume (mm<tspan font-size="4.4" dy="-2.8">3</tspan><tspan dy="2.8">)</tspan></text>
<text x="12.4" y="240.65" font-size="7.4" text-anchor="middle" fill="#2a2a2a" font-weight="normal" textLength="42.4" lengthAdjust="spacingAndGlyphs" stroke="#2a2a2a" stroke-width="0.27" transform="rotate(-90 12.4 238)">mean ± SEM</text>
<line x1="93.14" y1="269" x2="93.14" y2="259.33" stroke="#d8323f" stroke-width="1.1"/>
<line x1="91.14" y1="269" x2="95.14" y2="269" stroke="#d8323f" stroke-width="1.1"/>
<line x1="91.14" y1="259.33" x2="95.14" y2="259.33" stroke="#d8323f" stroke-width="1.1"/>
<line x1="112.52" y1="272.17" x2="112.52" y2="253.75" stroke="#d8323f" stroke-width="1.1"/>
<line x1="110.52" y1="272.17" x2="114.52" y2="272.17" stroke="#d8323f" stroke-width="1.1"/>
<line x1="110.52" y1="253.75" x2="114.52" y2="253.75" stroke="#d8323f" stroke-width="1.1"/>
<line x1="112.52" y1="279.68" x2="112.52" y2="276.92" stroke="#1e5f70" stroke-width="1.1"/>
<line x1="110.52" y1="279.68" x2="114.52" y2="279.68" stroke="#1e5f70" stroke-width="1.1"/>
<line x1="110.52" y1="276.92" x2="114.52" y2="276.92" stroke="#1e5f70" stroke-width="1.1"/>
<line x1="112.52" y1="223.77" x2="112.52" y2="202.59" stroke="#111" stroke-width="1.1"/>
<line x1="110.52" y1="223.77" x2="114.52" y2="223.77" stroke="#111" stroke-width="1.1"/>
<line x1="110.52" y1="202.59" x2="114.52" y2="202.59" stroke="#111" stroke-width="1.1"/>
<polyline points="49.5,276.32 65.94,272.31 77.49,275.49 93.14,273.83 112.52,278.3" fill="none" stroke="#1e5f70" stroke-width="1.3" stroke-linejoin="miter"/>
<polyline points="49.5,276.32 65.94,273.05 77.49,271.67 93.14,264.16 112.52,262.96" fill="none" stroke="#d8323f" stroke-width="1.3" stroke-linejoin="miter"/>
<polyline points="49.5,276.32 65.94,269.36 77.49,265.91 93.14,249.1 112.52,213.18" fill="none" stroke="#111" stroke-width="1.3" stroke-linejoin="miter"/>
<polygon points="65.94,270.01 68.24,272.31 65.94,274.61 63.64,272.31" fill="#1e5f70" stroke="#1e5f70" stroke-width="0.5"/>
<polygon points="77.49,273.19 79.79,275.49 77.49,277.79 75.19,275.49" fill="#1e5f70" stroke="#1e5f70" stroke-width="0.5"/>
<polygon points="93.14,271.53 95.44,273.83 93.14,276.13 90.84,273.83" fill="#1e5f70" stroke="#1e5f70" stroke-width="0.5"/>
<rect x="110.42" y="276.2" width="4.2" height="4.2" fill="#1e5f70" stroke="none" stroke-width="1"/>
<polygon points="65.94,270.95 63.94,274.55 67.94,274.55" fill="#d8323f" stroke="#d8323f" stroke-width="0.6"/>
<polygon points="77.49,269.57 75.49,273.17 79.49,273.17" fill="#d8323f" stroke="#d8323f" stroke-width="0.6"/>
<polygon points="93.14,262.06 91.14,265.66 95.14,265.66" fill="#d8323f" stroke="#d8323f" stroke-width="0.6"/>
<polygon points="112.52,260.86 110.52,264.46 114.52,264.46" fill="#d8323f" stroke="#d8323f" stroke-width="0.6"/>
<rect x="63.64" y="267.06" width="4.6" height="4.6" fill="#fff" stroke="#111" stroke-width="1.2"/>
<rect x="75.19" y="263.61" width="4.6" height="4.6" fill="#fff" stroke="#111" stroke-width="1.2"/>
<rect x="90.84" y="246.8" width="4.6" height="4.6" fill="#fff" stroke="#111" stroke-width="1.2"/>
<rect x="110.22" y="210.88" width="4.6" height="4.6" fill="#fff" stroke="#111" stroke-width="1.2"/>
<rect x="47.1" y="273.92" width="4.8" height="4.8" fill="#1e3a48" stroke="#111" stroke-width="1.1"/>
<circle cx="128" cy="263" r="1.3" fill="#222" stroke="none" stroke-width="1"/>
<circle cx="127.3" cy="276.7" r="1.3" fill="#222" stroke="none" stroke-width="1"/>
<circle cx="131.9" cy="276.7" r="1.3" fill="#222" stroke="none" stroke-width="1"/>
<line x1="167" y1="195.9" x2="167" y2="284.7" stroke="#222" stroke-width="1.2"/>
<line x1="166.4" y1="284.1" x2="279.5" y2="284.1" stroke="#222" stroke-width="1.2"/>
<line x1="164.3" y1="284.1" x2="167" y2="284.1" stroke="#222" stroke-width="1"/>
<text x="163.4" y="286.61" font-size="7" text-anchor="end" fill="#2a2a2a" font-weight="normal" stroke="#2a2a2a" stroke-width="0.27">0</text>
<line x1="164.3" y1="262.2" x2="167" y2="262.2" stroke="#222" stroke-width="1"/>
<text x="163.4" y="264.71" font-size="7" text-anchor="end" fill="#2a2a2a" font-weight="normal" stroke="#2a2a2a" stroke-width="0.27">25</text>
<line x1="164.3" y1="240.3" x2="167" y2="240.3" stroke="#222" stroke-width="1"/>
<text x="163.4" y="242.81" font-size="7" text-anchor="end" fill="#2a2a2a" font-weight="normal" stroke="#2a2a2a" stroke-width="0.27">50</text>
<line x1="164.3" y1="218.4" x2="167" y2="218.4" stroke="#222" stroke-width="1"/>
<text x="163.4" y="220.91" font-size="7" text-anchor="end" fill="#2a2a2a" font-weight="normal" stroke="#2a2a2a" stroke-width="0.27">75</text>
<line x1="164.3" y1="196.5" x2="167" y2="196.5" stroke="#222" stroke-width="1"/>
<text x="163.4" y="199.01" font-size="7" text-anchor="end" fill="#2a2a2a" font-weight="normal" stroke="#2a2a2a" stroke-width="0.27">100</text>
<line x1="171.8" y1="284.1" x2="171.8" y2="286.5" stroke="#222" stroke-width="1"/>
<text x="171.8" y="294.11" font-size="7" text-anchor="middle" fill="#2a2a2a" font-weight="normal" stroke="#2a2a2a" stroke-width="0.27">10</text>
<line x1="189.3" y1="284.1" x2="189.3" y2="286.5" stroke="#222" stroke-width="1"/>
<text x="189.3" y="294.11" font-size="7" text-anchor="middle" fill="#2a2a2a" font-weight="normal" stroke="#2a2a2a" stroke-width="0.27">17</text>
<line x1="206.8" y1="284.1" x2="206.8" y2="286.5" stroke="#222" stroke-width="1"/>
<text x="206.8" y="294.11" font-size="7" text-anchor="middle" fill="#2a2a2a" font-weight="normal" stroke="#2a2a2a" stroke-width="0.27">24</text>
<line x1="224.3" y1="284.1" x2="224.3" y2="286.5" stroke="#222" stroke-width="1"/>
<text x="224.3" y="294.11" font-size="7" text-anchor="middle" fill="#2a2a2a" font-weight="normal" stroke="#2a2a2a" stroke-width="0.27">31</text>
<line x1="241.8" y1="284.1" x2="241.8" y2="286.5" stroke="#222" stroke-width="1"/>
<text x="241.8" y="294.11" font-size="7" text-anchor="middle" fill="#2a2a2a" font-weight="normal" stroke="#2a2a2a" stroke-width="0.27">38</text>
<line x1="259.3" y1="284.1" x2="259.3" y2="286.5" stroke="#222" stroke-width="1"/>
<text x="259.3" y="294.11" font-size="7" text-anchor="middle" fill="#2a2a2a" font-weight="normal" stroke="#2a2a2a" stroke-width="0.27">45</text>
<line x1="276.8" y1="284.1" x2="276.8" y2="286.5" stroke="#222" stroke-width="1"/>
<text x="276.8" y="294.11" font-size="7" text-anchor="middle" fill="#2a2a2a" font-weight="normal" stroke="#2a2a2a" stroke-width="0.27">52</text>
<text x="188.1" y="301.97" font-size="6.9" text-anchor="start" fill="#2a2a2a" font-weight="normal" textLength="70.4" lengthAdjust="spacingAndGlyphs" stroke="#2a2a2a" stroke-width="0.27">Days post implantation</text>
<text x="139.9" y="242.27" font-size="6.9" text-anchor="middle" fill="#2a2a2a" font-weight="normal" textLength="71.6" lengthAdjust="spacingAndGlyphs" stroke="#2a2a2a" stroke-width="0.27" transform="rotate(-90 139.9 239.8)">Percent not at endpoint</text>
<text x="148.6" y="241.87" font-size="6.9" text-anchor="middle" fill="#2a2a2a" font-weight="normal" textLength="32.4" lengthAdjust="spacingAndGlyphs" stroke="#2a2a2a" stroke-width="0.27" transform="rotate(-90 148.6 239.4)">(800 mm<tspan font-size="4.2" dy="-2.7">3</tspan><tspan dy="2.7">)</tspan></text>
<line x1="167" y1="196.5" x2="198.8" y2="196.5" stroke="#333" stroke-width="1.2"/>
<line x1="198.8" y1="196.5" x2="275" y2="196.5" stroke="#6aa8b2" stroke-width="1.2"/>
<circle cx="276.2" cy="196.5" r="1.3" fill="#fff" stroke="#6aa8b2" stroke-width="0.8"/>
<polyline points="198.8,196.5 198.8,229.35 211.8,229.35 211.8,284.1" fill="none" stroke="#333" stroke-width="1.2" stroke-linejoin="miter"/>
<rect x="197.3" y="227.85" width="3" height="3" fill="#fff" stroke="#222" stroke-width="1"/>
<circle cx="211.8" cy="284.1" r="1.7" fill="#444" stroke="#222" stroke-width="0.9"/>
<polyline points="198.8,209.03 211.8,209.03 211.8,221.55 241.9,221.55 241.9,234.08 269.4,234.08 269.4,246.52 276.8,246.52" fill="none" stroke="#d8323f" stroke-width="1.2" stroke-linejoin="miter"/>
<polygon points="198.8,207.23 197.1,210.33 200.5,210.33" fill="#d8323f" stroke="#d8323f" stroke-width="0.9"/>
<polygon points="211.8,219.75 210.1,222.85 213.5,222.85" fill="#fff" stroke="#d8323f" stroke-width="0.9"/>
<polygon points="241.9,232.28 240.2,235.38 243.6,235.38" fill="#fff" stroke="#d8323f" stroke-width="0.9"/>
<polygon points="269.4,244.72 267.7,247.82 271.1,247.82" fill="#fff" stroke="#d8323f" stroke-width="0.9"/>
<polygon points="276.8,244.72 275.1,247.82 278.5,247.82" fill="#fff" stroke="#d8323f" stroke-width="0.9"/>
<text x="278.9" y="199.06" font-size="6.6" text-anchor="start" fill="#222" font-weight="normal" textLength="20.7" lengthAdjust="spacingAndGlyphs">†††, ‡</text>
<text x="284.3" y="250.16" font-size="6.6" text-anchor="middle" fill="#2a4a48" font-weight="normal">†</text>
<line x1="132.6" y1="307.9" x2="140.1" y2="307.9" stroke="#333" stroke-width="1.1"/>
<circle cx="136.3" cy="307.9" r="1.8" fill="#8a8a8a" stroke="#333" stroke-width="1.1"/>
<line x1="132.6" y1="315.1" x2="140.1" y2="315.1" stroke="#d8323f" stroke-width="1.1"/>
<polygon points="136.3,313.1 134.3,316.5 138.3,316.5" fill="#d8323f" stroke="#d8323f" stroke-width="0.6"/>
<line x1="132.6" y1="322.8" x2="140.1" y2="322.8" stroke="#1e5f70" stroke-width="1.1"/>
<polygon points="136.3,320.8 138.3,322.8 136.3,324.8 134.3,322.8" fill="#1e5f70" stroke="#1e5f70" stroke-width="0.6"/>
<text x="145.3" y="310.23" font-size="6.5" text-anchor="start" fill="#222" font-weight="normal" textLength="34" lengthAdjust="spacingAndGlyphs" stroke="#222" stroke-width="0.27">PBS control</text>
<text x="145.3" y="317.43" font-size="6.5" text-anchor="start" fill="#222" font-weight="normal" textLength="95.6" lengthAdjust="spacingAndGlyphs" stroke="#222" stroke-width="0.27">NVS32b2_Fc_afuc, 10 mg/kg qw</text>
<text x="145.3" y="325.23" font-size="6.5" text-anchor="start" fill="#222" font-weight="normal" textLength="108.9" lengthAdjust="spacingAndGlyphs" stroke="#222" stroke-width="0.27">NVS32b2_mIgG2a_DE, 10 mg/kg qw</text>
<text x="324.9" y="187.53" font-size="13.2" text-anchor="start" fill="#111" font-weight="bold" stroke="#111" stroke-width="0.35">D</text>
<text x="403.2" y="187.58" font-size="8.6" text-anchor="start" fill="#222" font-weight="normal" textLength="56" lengthAdjust="spacingAndGlyphs" stroke="#222" stroke-width="0.03">Daudi xenograft</text>
<line x1="353" y1="188.5" x2="353" y2="299.4" stroke="#c4c4c4" stroke-width="1.4"/>
<line x1="352.3" y1="299.4" x2="512.5" y2="299.4" stroke="#c4c4c4" stroke-width="1"/>
<text x="350.9" y="295.82" font-size="6.2" text-anchor="end" fill="#2a2a2a" font-weight="normal" stroke="#2a2a2a" stroke-width="0.27">1</text>
<text x="350.9" y="287.07" font-size="6.2" text-anchor="end" fill="#2a2a2a" font-weight="normal" stroke="#2a2a2a" stroke-width="0.27">1.5</text>
<text x="350.9" y="278.32" font-size="6.2" text-anchor="end" fill="#2a2a2a" font-weight="normal" stroke="#2a2a2a" stroke-width="0.27">2</text>
<text x="350.9" y="269.57" font-size="6.2" text-anchor="end" fill="#2a2a2a" font-weight="normal" stroke="#2a2a2a" stroke-width="0.27">2.5</text>
<text x="350.9" y="260.82" font-size="6.2" text-anchor="end" fill="#2a2a2a" font-weight="normal" stroke="#2a2a2a" stroke-width="0.27">3</text>
<text x="350.9" y="252.07" font-size="6.2" text-anchor="end" fill="#2a2a2a" font-weight="normal" stroke="#2a2a2a" stroke-width="0.27">3.5</text>
<text x="350.9" y="243.32" font-size="6.2" text-anchor="end" fill="#2a2a2a" font-weight="normal" stroke="#2a2a2a" stroke-width="0.27">4</text>
<text x="350.9" y="234.57" font-size="6.2" text-anchor="end" fill="#2a2a2a" font-weight="normal" stroke="#2a2a2a" stroke-width="0.27">4.5</text>
<text x="350.9" y="225.82" font-size="6.2" text-anchor="end" fill="#2a2a2a" font-weight="normal" stroke="#2a2a2a" stroke-width="0.27">5</text>
<text x="350.9" y="217.07" font-size="6.2" text-anchor="end" fill="#2a2a2a" font-weight="normal" stroke="#2a2a2a" stroke-width="0.27">5.5</text>
<text x="350.9" y="208.32" font-size="6.2" text-anchor="end" fill="#2a2a2a" font-weight="normal" stroke="#2a2a2a" stroke-width="0.27">6</text>
<text x="350.9" y="199.57" font-size="6.2" text-anchor="end" fill="#2a2a2a" font-weight="normal" stroke="#2a2a2a" stroke-width="0.27">6.5</text>
<text x="329.5" y="245.75" font-size="5.6" text-anchor="middle" fill="#2a2a2a" font-weight="normal" textLength="59.7" lengthAdjust="spacingAndGlyphs" stroke="#2a2a2a" stroke-width="0.27" transform="rotate(-90 329.5 243.75)">F4/80 positive xenograft</text>
<text x="335.4" y="246.35" font-size="5.6" text-anchor="middle" fill="#2a2a2a" font-weight="normal" textLength="36.1" lengthAdjust="spacingAndGlyphs" stroke="#2a2a2a" stroke-width="0.27" transform="rotate(-90 335.4 244.35)">tissue area [%]</text>
<circle cx="372.3" cy="249.85" r="3" fill="none" stroke="#c4c4c4" stroke-width="0.9"/>
<circle cx="372.3" cy="267.35" r="3" fill="none" stroke="#c4c4c4" stroke-width="0.9"/>
<circle cx="372.3" cy="272.6" r="3" fill="none" stroke="#c4c4c4" stroke-width="0.9"/>
<rect x="368.9" y="261.98" width="6.8" height="2.1" fill="#111" stroke="none" stroke-width="1"/>
<rect x="391.2" y="246.85" width="6" height="6" fill="none" stroke="#f3d4b0" stroke-width="0.9"/>
<rect x="391.2" y="256.48" width="6" height="6" fill="none" stroke="#f3d4b0" stroke-width="0.9"/>
<rect x="391.2" y="266.1" width="6" height="6" fill="none" stroke="#f3d4b0" stroke-width="0.9"/>
<rect x="390.5" y="258.28" width="7.4" height="2.4" fill="#c86a30" stroke="none" stroke-width="1"/>
<polygon points="411.3,200.5 418.3,200.5 414.8,206.3" fill="none" stroke="#e8a0aa" stroke-width="0.8"/>
<polygon points="411.3,204.53 418.3,204.53 414.8,210.33" fill="none" stroke="#e8a0aa" stroke-width="0.8"/>
<polygon points="411.3,252.3 418.3,252.3 414.8,258.1" fill="none" stroke="#e8a0aa" stroke-width="0.8"/>
<rect x="411.2" y="220.65" width="7.2" height="2.4" fill="#c4142c" stroke="none" stroke-width="1"/>
<polygon points="432.6,198.05 439.6,198.05 436.1,203.85" fill="none" stroke="#e8a0aa" stroke-width="0.8"/>
<polygon points="432.6,226.75 439.6,226.75 436.1,232.55" fill="none" stroke="#e8a0aa" stroke-width="0.8"/>
<polygon points="432.6,228.32 439.6,228.32 436.1,234.12" fill="none" stroke="#e8a0aa" stroke-width="0.8"/>
<rect x="432.5" y="219.43" width="7.2" height="2.4" fill="#c4142c" stroke="none" stroke-width="1"/>
<polygon points="454,227.8 461,227.8 457.5,233.6" fill="none" stroke="#e8a0aa" stroke-width="0.8"/>
<polygon points="454,232.53 461,232.53 457.5,238.33" fill="none" stroke="#e8a0aa" stroke-width="0.8"/>
<polygon points="454,256.15 461,256.15 457.5,261.95" fill="none" stroke="#e8a0aa" stroke-width="0.8"/>
<rect x="453.9" y="240.78" width="7.2" height="2.4" fill="#c4142c" stroke="none" stroke-width="1"/>
<polygon points="475.2,206.8 482.2,206.8 478.7,212.6" fill="none" stroke="#e8a0aa" stroke-width="0.8"/>
<polygon points="475.2,251.43 482.2,251.43 478.7,257.23" fill="none" stroke="#e8a0aa" stroke-width="0.8"/>
<polygon points="475.2,269.1 482.2,269.1 478.7,274.9" fill="none" stroke="#e8a0aa" stroke-width="0.8"/>
<rect x="475.1" y="244.28" width="7.2" height="2.4" fill="#c4142c" stroke="none" stroke-width="1"/>
<polygon points="496.1,254.05 503.1,254.05 499.6,259.85" fill="none" stroke="#e8a0aa" stroke-width="0.8"/>
<polygon points="496.1,258.07 503.1,258.07 499.6,263.88" fill="none" stroke="#e8a0aa" stroke-width="0.8"/>
<polygon points="496.1,289.4 503.1,289.4 499.6,295.2" fill="none" stroke="#e8a0aa" stroke-width="0.8"/>
<rect x="496" y="268.95" width="7.2" height="2.4" fill="#c4142c" stroke="none" stroke-width="1"/>
<text x="359.3" y="325.2" font-size="6.8" fill="#222" stroke="#222" stroke-width="0.12" textLength="24.5" lengthAdjust="spacingAndGlyphs" transform="rotate(-52 359.3 325.2)">Untreated</text>
<text x="381.3" y="317.6" font-size="6.8" fill="#222" stroke="#222" stroke-width="0.12" textLength="19.5" lengthAdjust="spacingAndGlyphs" transform="rotate(-52 381.3 317.6)">Isotype</text>
<text x="387" y="321.5" font-size="6.8" fill="#222" stroke="#222" stroke-width="0.12" textLength="19.5" lengthAdjust="spacingAndGlyphs" transform="rotate(-52 387 321.5)">control</text>
<text x="400.5" y="322.4" font-size="6.8" fill="#222" stroke="#222" stroke-width="0.12" textLength="24.5" lengthAdjust="spacingAndGlyphs" transform="rotate(-52 400.5 322.4)">NVS32b2</text>
<text x="412.3" y="317.6" font-size="6.8" fill="#222" stroke="#222" stroke-width="0.12" textLength="13.5" lengthAdjust="spacingAndGlyphs" transform="rotate(-52 412.3 317.6)">_DEL</text>
<text x="434.6" y="309.3" font-size="6.8" fill="#222" stroke="#222" stroke-width="0.12" textLength="7.6" lengthAdjust="spacingAndGlyphs" transform="rotate(-52 434.6 309.3)">7d</text>
<text x="454.2" y="311.2" font-size="6.8" fill="#222" stroke="#222" stroke-width="0.12" textLength="9.8" lengthAdjust="spacingAndGlyphs" transform="rotate(-52 454.2 311.2)">10d</text>
<text x="474.8" y="311.2" font-size="6.8" fill="#222" stroke="#222" stroke-width="0.12" textLength="9.8" lengthAdjust="spacingAndGlyphs" transform="rotate(-52 474.8 311.2)">14d</text>
<text x="497.2" y="311.2" font-size="6.8" fill="#222" stroke="#222" stroke-width="0.12" textLength="9.8" lengthAdjust="spacingAndGlyphs" transform="rotate(-52 497.2 311.2)">21d</text>
<polyline points="375.9,316.6 375.9,322.6 418.8,322.6 418.8,316.6" fill="none" stroke="#cccccc" stroke-width="1.1" stroke-linejoin="miter"/>
<polyline points="430.7,311.4 430.7,316.6 506.3,316.6 506.3,311.4" fill="none" stroke="#cccccc" stroke-width="1.1" stroke-linejoin="miter"/>
<text x="377.8" y="331.21" font-size="7" text-anchor="start" fill="#222" font-weight="normal" textLength="39" lengthAdjust="spacingAndGlyphs" stroke="#222" stroke-width="0.12">10 mg/kg qw*2</text>
<text x="396.7" y="337.41" font-size="7" text-anchor="middle" fill="#222" font-weight="normal" textLength="47" lengthAdjust="spacingAndGlyphs" stroke="#222" stroke-width="0.12">3d post 2<tspan font-size="4.4" dy="-2.2">nd</tspan><tspan dy="2.2"> IV dose</tspan></text>
<text x="450.1" y="323.51" font-size="7" text-anchor="start" fill="#222" font-weight="normal" textLength="35.8" lengthAdjust="spacingAndGlyphs" stroke="#222" stroke-width="0.12">NVS32b2_DEL</text>
<text x="447.8" y="329.51" font-size="7" text-anchor="start" fill="#222" font-weight="normal" textLength="39.8" lengthAdjust="spacingAndGlyphs" stroke="#222" stroke-width="0.12">Days post single</text>
<text x="445.8" y="335.71" font-size="7" text-anchor="start" fill="#222" font-weight="normal" textLength="43.2" lengthAdjust="spacingAndGlyphs" stroke="#222" stroke-width="0.12">10 mg/kg IV dose</text>
</g>
</svg>
</body></html>
